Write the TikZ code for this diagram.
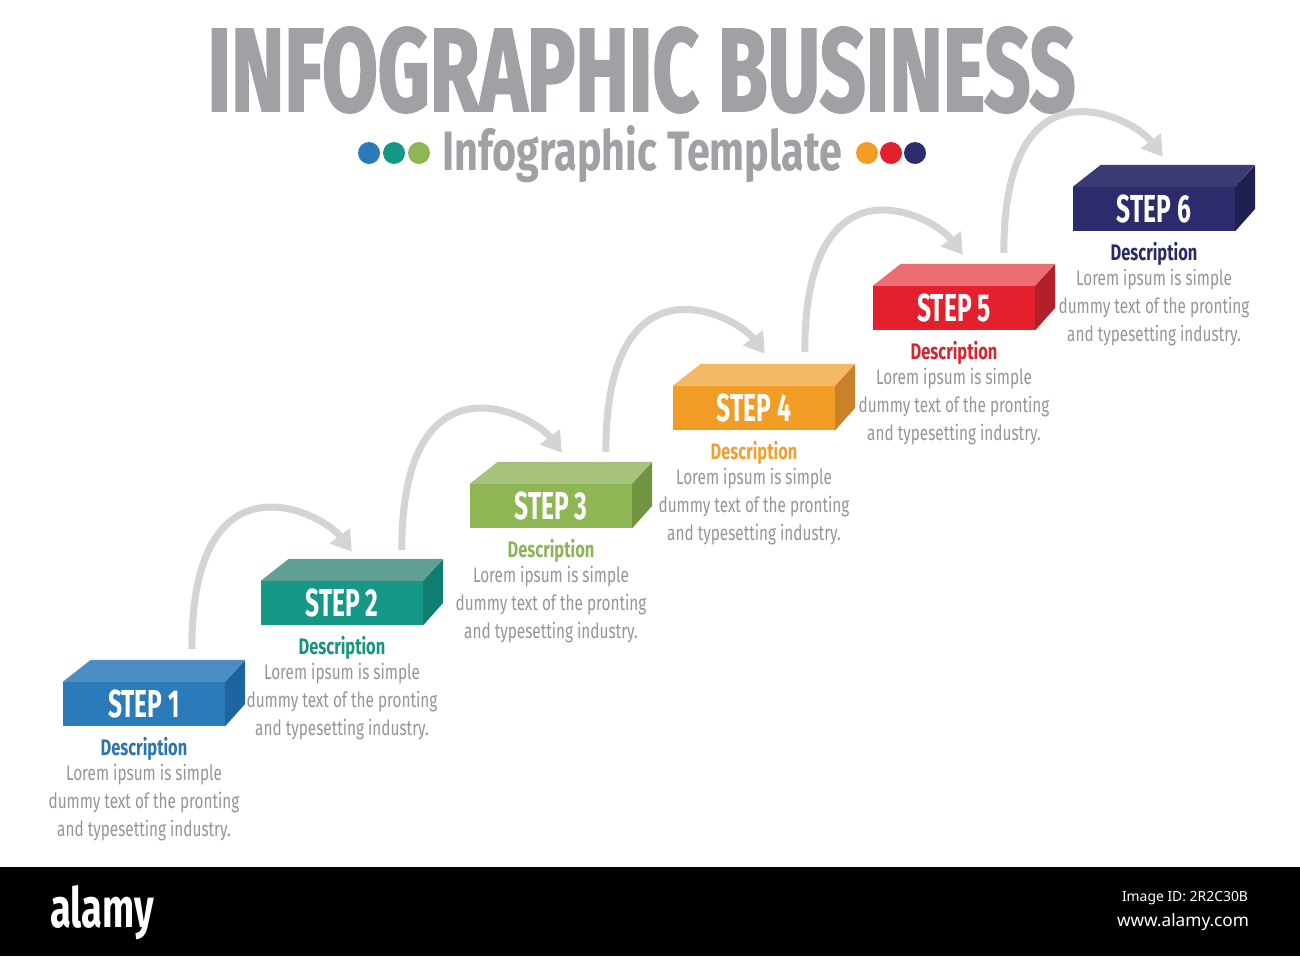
\documentclass[tikz,border=0pt]{standalone}
\usepackage{graphicx}
\usepackage{fontspec}
\setmainfont{Fira Sans}
\newfontfamily\condb[FakeStretch=0.63]{Fira Sans}
\newfontfamily\condh[FakeStretch=0.63,FakeBold=1.5]{Fira Sans}
\newfontfamily\condr[FakeStretch=0.73]{Fira Sans}
\newfontfamily\notof{Noto Sans}
\usetikzlibrary{arrows.meta,calc}
\definecolor{tgray}{RGB}{160,161,165}
\definecolor{agray}{RGB}{212,212,214}
\definecolor{bgray}{RGB}{150,150,154}
\definecolor{f1}{RGB}{43,123,186}\definecolor{t1}{RGB}{76,141,195}\definecolor{k1}{RGB}{30,100,158}\definecolor{d1}{RGB}{42,116,176}
\definecolor{f2}{RGB}{22,152,136}\definecolor{t2}{RGB}{96,160,147}\definecolor{k2}{RGB}{14,126,112}\definecolor{d2}{RGB}{22,148,128}
\definecolor{f3}{RGB}{143,182,85}\definecolor{t3}{RGB}{166,194,123}\definecolor{k3}{RGB}{112,148,64}\definecolor{d3}{RGB}{140,181,87}
\definecolor{f4}{RGB}{241,157,37}\definecolor{t4}{RGB}{243,185,102}\definecolor{k4}{RGB}{201,130,42}\definecolor{d4}{RGB}{240,160,48}
\definecolor{f5}{RGB}{229,32,45}\definecolor{t5}{RGB}{236,110,115}\definecolor{k5}{RGB}{180,32,42}\definecolor{d5}{RGB}{217,34,46}
\definecolor{f6}{RGB}{44,43,107}\definecolor{t6}{RGB}{59,58,116}\definecolor{k6}{RGB}{32,31,82}\definecolor{d6}{RGB}{42,42,102}
\tikzset{
  stepface/.style={minimum width=162pt, minimum height=44pt, inner sep=0pt, text=white,
    font=\condb\bfseries\fontsize{39}{39}\selectfont},
  desctext/.style={inner sep=0pt, anchor=base, font=\condr\bfseries\fontsize{22.5}{24}\selectfont},
  bodytext/.style={inner sep=0pt, text=bgray, align=center, font=\condr\fontsize{21}{28}\selectfont},
  flow/.style={draw=agray, line width=7pt, -{Triangle[length=20pt,width=24pt]}},
}
\begin{document}
\begin{tikzpicture}[x=1pt,y=-1pt]
\useasboundingbox (0,0) rectangle (1300,956);
\fill[white] (0,0) rectangle (1300,956);
% title
\node[text=tgray, inner sep=0pt] (title) at (641.5,70) {\resizebox{868pt}{84pt}{\condh\bfseries INFOGRAPHIC BUSINESS}};
\node[text=tgray, inner sep=0pt, anchor=base west] (subtitle) at (442,170) {\resizebox{400pt}{45pt}{\condb\bfseries Infographic Template}};
\fill[f1] (369,153) circle[radius=11];
\fill[f2] (394,153) circle[radius=11];
\fill[f3] (419,153) circle[radius=11];
\fill[f4] (867,153) circle[radius=11];
\fill[f5] (891,153) circle[radius=11];
\fill[f6] (915,153) circle[radius=11];
% steps
\foreach \i/\x/\yb in {1/63/726, 2/261/625, 3/470/528, 4/673/430, 5/873/330, 6/1073/231}{
  \node[stepface, fill=f\i] (s\i) at ({\x+81},{\yb-22}) {STEP \i};
  \fill[t\i] (s\i.north west) -- ++(28,-22) -- ++(154,0) -- (s\i.north east) -- cycle;
  \fill[k\i] (s\i.north east) -- ++(20,-22) -- ++(0,44) -- (s\i.south east) -- cycle;
  \node[desctext, text=d\i] (d\i) at ({\x+81},{\yb+29}) {Description};
  \node[bodytext] (b\i) at ({\x+81},{\yb+77}) {Lorem ipsum is simple\\dummy text of the pronting\\and typesetting industry.};
}
% arrow anchors
\coordinate (a1) at ($(s1.north west)+(129,-33)$);
\coordinate (a2) at ($(s2.north west)+(141,-31)$);
\coordinate (a3) at ($(s3.north west)+(136,-32)$);
\coordinate (a4) at ($(s4.north west)+(132,-34)$);
\coordinate (a5) at ($(s5.north west)+(131,-33)$);
\coordinate (e2) at ($(s2.north west)+(91,-29)$);
\coordinate (e3) at ($(s3.north west)+(92,-31)$);
\coordinate (e4) at ($(s4.north west)+(92,-32)$);
\coordinate (e5) at ($(s5.north west)+(90,-31)$);
\coordinate (e6) at ($(s6.north west)+(90,-30)$);
\draw[flow] (a1) .. controls +(0,-201) and +(-30,-40) .. (e2);
\draw[flow] (a2) .. controls +(0,-201) and +(-30,-40) .. (e3);
\draw[flow] (a3) .. controls +(0,-201) and +(-30,-40) .. (e4);
\draw[flow] (a4) .. controls +(0,-201) and +(-30,-40) .. (e5);
\draw[flow] (a5) .. controls +(0,-201) and +(-30,-40) .. (e6);
% footer
\fill[black] (0,867) rectangle (1300,956);
\node[text=white, inner sep=0pt, anchor=base west] (logo) at (50,927) {\resizebox{104pt}{42pt}{\condb\bfseries alamy}};
\node[text=white, inner sep=0pt] (imgid) at (1185,898) {\resizebox{126pt}{!}{\notof Image ID: 2R2C30B}};
\node[text=white, inner sep=0pt] (url) at (1183,922) {\resizebox{132pt}{!}{\notof\bfseries www.alamy.com}};
\end{tikzpicture}
\end{document}
